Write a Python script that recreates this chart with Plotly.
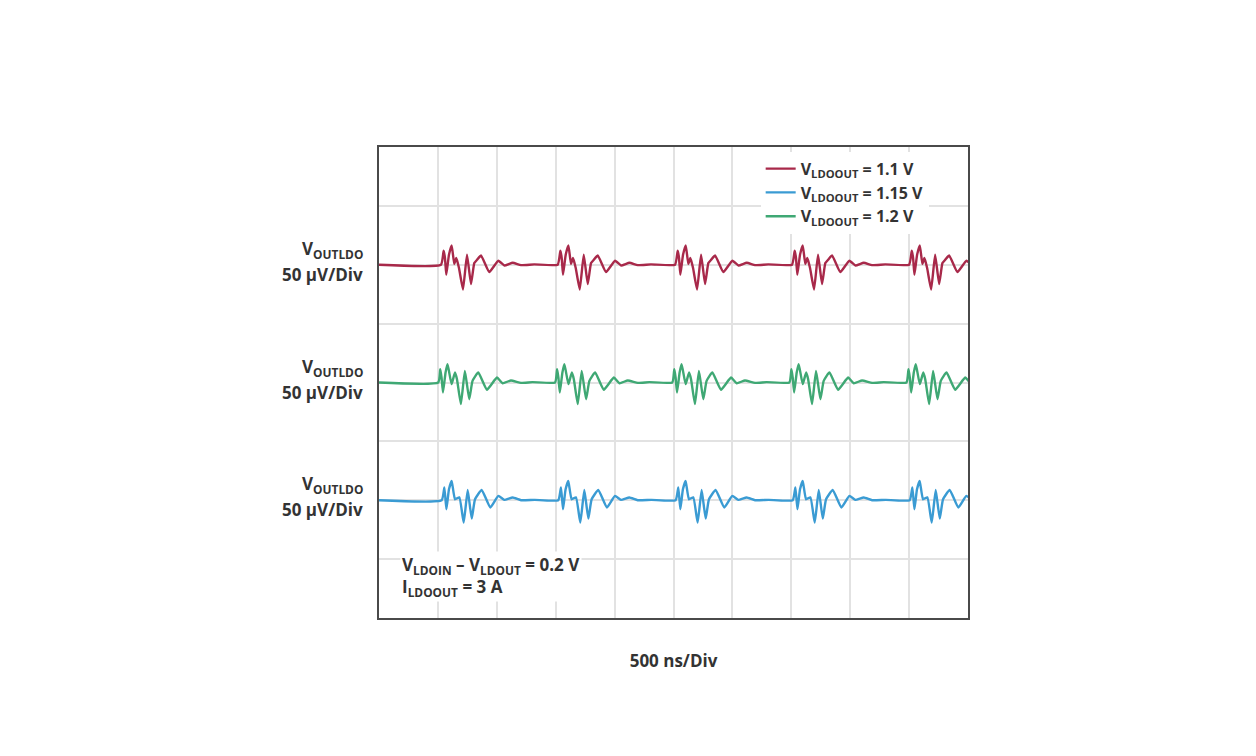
import plotly.graph_objects as go

# ---- data (time in ns, voltage in µV; 1 div = 500 ns / 50 µV) ----
burst_starts_red = [526, 1517, 2513, 3506, 4500]
burst_starts_green = [503, 1495, 2490, 3484, 4478]
burst_starts_blue = [532, 1522, 2518, 3512, 4505]

red_off_ns = [0, 23, 34, 45, 68, 91, 113, 130, 153, 187, 221, 255, 283, 306, 340, 410, 487, 538, 609, 679, 792]
red_uv = [0, 11.9, 5.7, -8.5, 8.5, 16.4, 0.6, 5.7, -2.8, -21.0, 8.5, -16.4, 1.4, 4.2, 7.9, -6.2, 3.4, -0.6, 1.7, -0.3, 0.3]

green_off_ns = [0, 17, 28, 40, 62, 79, 113, 142, 159, 192, 226, 263, 291, 340, 413, 498, 546, 617, 702, 800]
green_uv = [0, 11.3, 4.2, -8.5, 8.5, 15.6, -1.4, 8.5, 2.8, -18.4, 9.9, -14.2, 1.4, 8.5, -6.2, 4.2, -0.6, 1.7, -0.3, 0.3]

blue_off_ns = [0, 23, 40, 62, 85, 113, 150, 187, 221, 255, 283, 340, 413, 481, 532, 603, 674, 790]
blue_uv = [0, 10.8, -7.6, 9.3, 16.4, 0.8, 2.5, -19.0, 8.8, -15.6, 0.8, 8.8, -6.2, 3.7, 0.3, 2.3, 0.0, 0.3]

baseline_red = 300
baseline_green = 200
baseline_blue = 100

legend_names = ["<b>V<sub>LDOOUT</sub> = 1.1 V</b>", "<b>V<sub>LDOOUT</sub> = 1.15 V</b>", "<b>V<sub>LDOOUT</sub> = 1.2 V</b>"]
colors = ["#A8294A", "#3A9BD3", "#3FA874"]


def build(starts, offs, vals, base):
    xs, ys = [0], [base]
    for s in starts:
        xs.append(s)
        ys.append(base)
        for o, v in zip(offs[1:], vals[1:]):
            xs.append(s + o)
            ys.append(base + v)
    xs.append(5400)
    ys.append(base)
    return xs, ys


traces = [
    build(burst_starts_red, red_off_ns, red_uv, baseline_red),
    build(burst_starts_blue, blue_off_ns, blue_uv, baseline_blue),
    build(burst_starts_green, green_off_ns, green_uv, baseline_green),
]

FONT = "Open Sans"
TXT = "#333333"

fig = go.Figure()
for (xs, ys), name, c in zip(traces, legend_names, colors):
    fig.add_trace(go.Scatter(x=xs, y=ys, mode="lines", name=name,
                             line=dict(color=c, width=2.4, shape="spline", smoothing=0.4)))

fig.update_layout(
    width=1256, height=756,
    margin=dict(l=371, r=296, t=139, b=146),
    paper_bgcolor="white", plot_bgcolor="white",
    showlegend=True,
    legend=dict(x=0.648, y=0.99, xanchor="left", yanchor="top",
                bgcolor="white", borderwidth=0, tracegroupgap=0,
                font=dict(family=FONT, size=16, color=TXT),
                itemwidth=30, traceorder="normal"),
    xaxis=dict(range=[0, 5000], dtick=500, showticklabels=False, ticks="",
               showgrid=True, gridcolor="#e2e2e2", gridwidth=2, zeroline=False,
               showline=True, linecolor="#4a4a4a", linewidth=2, mirror=True,
               title=dict(text="<b>500 ns/Div</b>", font=dict(family=FONT, size=17, color=TXT), standoff=36)),
    yaxis=dict(range=[0, 400], dtick=50, showticklabels=False, ticks="",
               showgrid=True, gridcolor="#e2e2e2", gridwidth=2, zeroline=False,
               showline=True, linecolor="#4a4a4a", linewidth=2, mirror=True),
    font=dict(family=FONT, color=TXT),
)

for base in [baseline_red, baseline_green, baseline_blue]:
    fig.add_annotation(xref="paper", yref="y", x=-0.026, y=base, xanchor="right", yanchor="bottom",
                       yshift=2, text="<b>V<sub>OUTLDO</sub></b>", showarrow=False, align="right",
                       borderpad=0, font=dict(family=FONT, size=17, color=TXT))
    fig.add_annotation(xref="paper", yref="y", x=-0.026, y=base, xanchor="right", yanchor="top",
                       yshift=3, text="<b>50 µV/Div</b>", showarrow=False, align="right",
                       borderpad=0, font=dict(family=FONT, size=17, color=TXT))

fig.add_annotation(xref="paper", yref="paper", x=0.035, y=0.035, xanchor="left", yanchor="bottom",
                   text="<b>V<sub>LDOIN</sub> – V<sub>LDOUT</sub> = 0.2 V<br>I<sub>LDOOUT</sub> = 3 A</b>",
                   showarrow=False, align="left", bgcolor="white",
                   font=dict(family=FONT, size=17, color=TXT))

fig.write_html("out.html")
